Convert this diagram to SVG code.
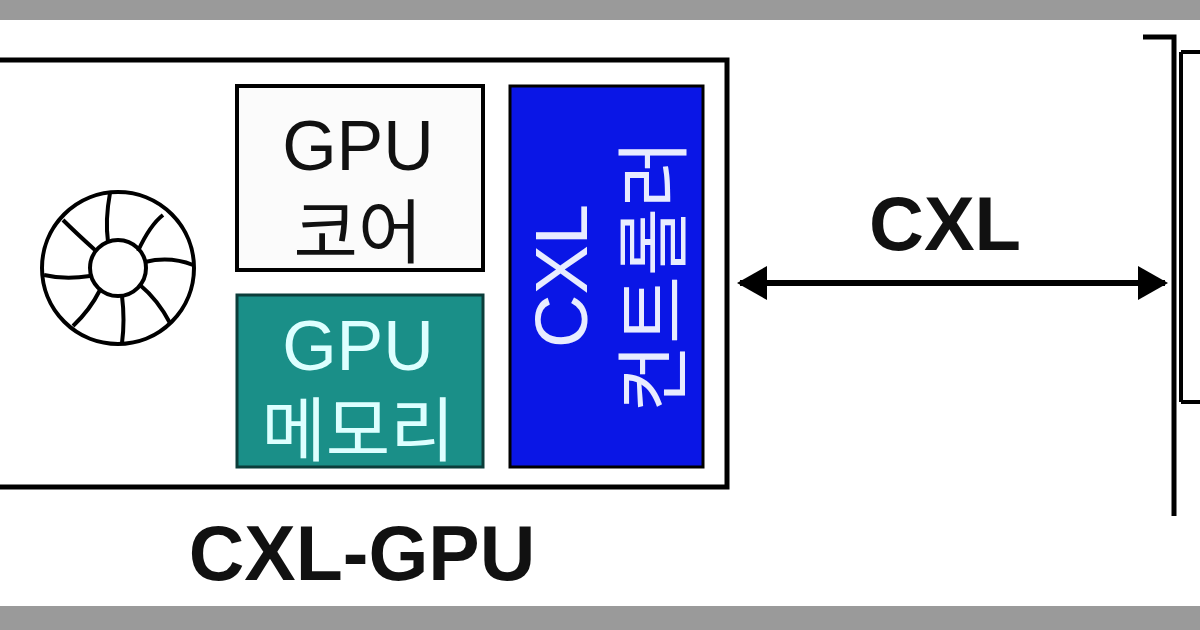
<svg xmlns="http://www.w3.org/2000/svg" width="1200" height="630" viewBox="0 0 1200 630">
<style>
.k{font-family:"Liberation Sans","Noto Sans CJK KR",sans-serif}
.b{font-weight:bold;fill:#111}
.ln{fill:none;stroke:#000;stroke-width:5}
.fan{fill:none;stroke:#000;stroke-width:4}
</style>
<defs>
<marker id="ah" viewBox="0 0 10 10" refX="9" refY="5" markerWidth="30" markerHeight="34" orient="auto-start-reverse" markerUnits="userSpaceOnUse" preserveAspectRatio="none">
<path d="M0,0L10,5L0,10z"/>
</marker>
</defs>
<rect width="1200" height="630" fill="#fff"/>
<rect width="1200" height="20" fill="#9a9a9a"/>
<rect y="606" width="1200" height="24" fill="#9a9a9a"/>
<g id="cxl-gpu">
<rect class="ln" x="-5" y="60" width="732" height="427"/>
<text class="k b" x="362" y="580" font-size="77" text-anchor="middle">CXL-GPU</text>
</g>
<g id="fan">
<circle class="fan" cx="118" cy="268" r="76"/>
<circle class="fan" cx="118" cy="268" r="28"/>
<g class="fan">
<path d="M108,242 Q105,220 110,193"/>
<path d="M138,251 Q150,225 163,215"/>
<path d="M145,262 Q170,256 193,265"/>
<path d="M140,285 Q158,300 170,323"/>
<path d="M122,296 Q125,320 122,343"/>
<path d="M100,290 Q90,310 73,326"/>
<path d="M90,276 Q65,280 44,275"/>
<path d="M95,250 Q75,232 63,220"/>
</g>
</g>
<g id="gpu-core">
<rect x="237" y="86" width="246" height="184" fill="#fbfbfb" stroke="#000" stroke-width="4"/>
<text class="k" x="358" y="170" font-size="70" text-anchor="middle" fill="#111">GPU</text>
<text class="k" x="358" y="258" font-size="70" text-anchor="middle" fill="#111">코어</text>
</g>
<g id="gpu-memory">
<rect x="237" y="295" width="246" height="172" fill="#1a8f88" stroke="#0b3d3a" stroke-width="3"/>
<text class="k" x="358" y="370" font-size="70" text-anchor="middle" fill="#dff">GPU</text>
<text class="k" x="358" y="456" font-size="70" text-anchor="middle" fill="#dff">메모리</text>
</g>
<g id="cxl-controller">
<rect x="510" y="86" width="193" height="381" fill="#0a16e6" stroke="#000" stroke-width="3"/>
<text class="k" transform="translate(587,276) rotate(-90)" font-size="74" text-anchor="middle" fill="#e8ecff">CXL</text>
<text class="k" transform="translate(680,276) rotate(-90)" font-size="74" text-anchor="middle" fill="#e8ecff">컨트롤러</text>
</g>
<g id="host">
<path class="ln" d="M1143,37H1174V516"/>
<path d="M1181,52H1200M1181,402H1200M1181,52V402" fill="none" stroke="#000" stroke-width="4"/>
</g>
<g id="connectors">
<line x1="740" y1="283" x2="1165" y2="283" stroke="#000" stroke-width="6" marker-start="url(#ah)" marker-end="url(#ah)"/>
<text class="k b" x="945" y="250" font-size="76" text-anchor="middle">CXL</text>
</g>
</svg>
